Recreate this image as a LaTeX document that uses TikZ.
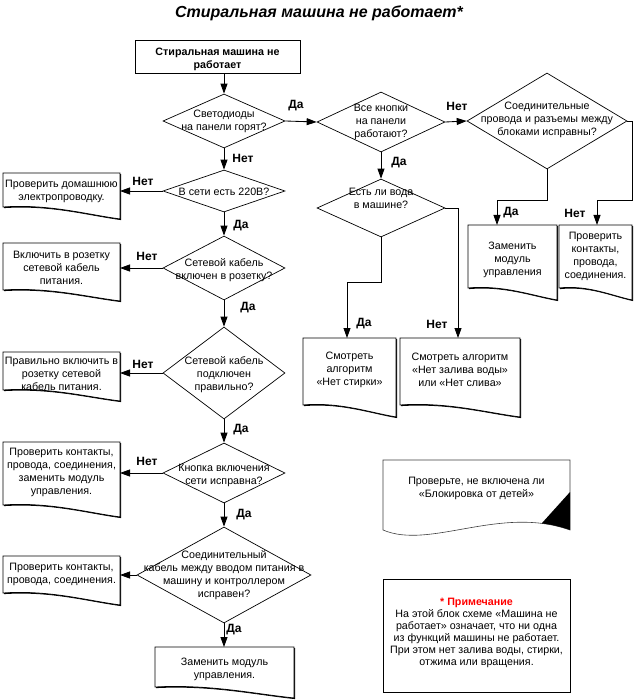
\documentclass[tikz,border=0pt]{standalone}
\usepackage{fontspec}
\setmainfont{Liberation Sans}
\usetikzlibrary{shapes.geometric,arrows.meta,calc,shadows}
\tikzset{
  boxline/.style={line width=0.8pt, draw=black},
  shd/.style={drop shadow={shadow xshift=1.1pt, shadow yshift=-1.1pt, fill=black, opacity=1}},
  dia/.style={diamond, draw, line width=0.7pt, inner sep=0pt, fill=white},
  arr/.style={-{Triangle[length=10pt,width=7pt]}, line width=0.85pt},
  lbl/.style={font=\bfseries\fontsize{12}{14}\selectfont, inner sep=0pt},
  txt/.style={align=center, font=\fontsize{10.7}{13}\selectfont, inner sep=0pt},
  ttl/.style={font=\bfseries\itshape\fontsize{16}{19}\selectfont, inner sep=0pt},
  area/.style={inner sep=0pt, outer sep=0pt},
}
\newcommand\docshape[8]{%
  \draw[boxline, fill=white, shd] (#2,#3) -- (#4,#3) -- (#4,{#5+#6}) .. controls ({#4-0.3*(#4-#2)},{#5+0.6*#6}) and ({#2+0.4*(#4-#2)},{#5-0.25*#6}) .. (#2,#5) -- cycle;
  \node[area, minimum width={(#4-#2)*1pt}, minimum height={(#5-#3)*1pt}] (#1) at ({(#2+#4)/2},{(#3+#5)/2}) {};
  \node[txt] (#1-t) at ({(#2+#4)/2},#7) {#8};
}
\begin{document}
\begin{tikzpicture}[x=1pt,y=-1pt]
\useasboundingbox[fill=white] (0,0) rectangle (634,700);
\node[ttl] (title) at (319,13) {Стиральная машина не работает*};

% start box
\node[boxline, fill=white, shd, minimum width=165pt, minimum height=33pt, inner sep=0pt] (s) at (217.5,56.5) {};
\node[txt, font=\bfseries\fontsize{10.7}{13}\selectfont] (s-t) at (217.5,59) {Стиральная машина не\\работает};

% diamonds
\node[dia, minimum width=122pt, minimum height=54pt] (d1) at (224,121) {};
\node[txt] (d1-t) at (224,121.5) {Светодиоды\\на панели горят?};
\node[dia, minimum width=128pt, minimum height=60pt] (d2) at (381,122) {};
\node[txt] (d2-t) at (381,122) {Все кнопки\\на панели\\работают?};
\node[dia, minimum width=160pt, minimum height=96pt] (d3) at (547,121) {};
\node[txt] (d3-t) at (547,120) {Соединительные\\провода и разъемы между\\блоками исправны?};
\node[dia, minimum width=128pt, minimum height=58pt] (d4) at (381,208) {};
\node[txt] (d4-t) at (381,198) {Есть ли вода\\в машине?};
\node[dia, minimum width=122pt, minimum height=42pt] (d5) at (224,191) {};
\node[txt] (d5-t) at (224,192) {В сети есть 220В?};
\node[dia, minimum width=122pt, minimum height=64pt] (d6) at (224,268) {};
\node[txt] (d6-t) at (224,270) {Сетевой кабель\\включен в розетку?};
\node[dia, minimum width=122pt, minimum height=92pt] (d7) at (224,373) {};
\node[txt] (d7-t) at (224,374.5) {Сетевой кабель\\подключен\\правильно?};
\node[dia, minimum width=122pt, minimum height=60pt] (d8) at (224,473) {};
\node[txt] (d8-t) at (224,475) {Кнопка включения\\сети исправна?};
\node[dia, minimum width=174pt, minimum height=96pt] (d9) at (224,575) {};
\node[txt] (d9-t) at (224,575) {Соединительный\\кабель между вводом питания в\\машину и контроллером\\исправен?};

% document boxes
\docshape{L1}{3}{173}{120}{207}{12}{191}{Проверить домашнюю\\электропроводку.}
\docshape{L2}{3}{243}{120}{290}{11}{268}{Включить в розетку\\сетевой кабель\\питания.}
\docshape{L3}{3}{352}{120}{390}{11}{374}{Правильно включить в\\розетку сетевой\\кабель питания.}
\docshape{L4}{3}{442}{120}{505}{12}{472}{Проверить контакты,\\провода, соединения,\\заменить модуль\\управления.}
\docshape{L5}{3}{556}{120}{593}{12}{574}{Проверить контакты,\\провода, соединения.}
\docshape{F}{155}{647}{294}{687}{11}{669}{Заменить модуль\\управления.}
\docshape{R1}{468}{225}{557}{288}{12}{260}{Заменить\\модуль\\управления}
\docshape{R2}{559}{225}{632}{288}{12}{256}{Проверить\\контакты,\\провода,\\соединения.}
\docshape{M1}{303}{338}{396}{405}{12}{370}{Смотреть\\алгоритм\\«Нет стирки»}
\docshape{M2}{400}{338}{520}{405}{12}{370}{Смотреть алгоритм\\«Нет залива воды»\\или «Нет слива»}

% child lock box
\draw[line width=0.6pt, draw=black!75, fill=white] (383,460) -- (570,460) -- (570,530) .. controls (500,505) and (430,550) .. (383,530) -- cycle;
\begin{scope}
  \clip (383,460) -- (570,460) -- (570,530) .. controls (500,505) and (430,550) .. (383,530) -- cycle;
  \fill[black] (570,492) -- (533,533) -- (576,542) -- (576,492) -- cycle;
\end{scope}
\node[area, minimum width=187pt, minimum height=70pt] (P) at (476.5,495) {};
\node[txt] (P-t) at (476.5,488) {Проверьте, не включена ли\\«Блокировка от детей»};

% note box
\node[boxline, fill=white, shd, minimum width=187pt, minimum height=113pt, inner sep=0pt] (note) at (476.5,635.5) {};
\node[txt, font=\fontsize{10.7}{12}\selectfont] (note-t) at (476.5,633) {\textcolor{red}{\bfseries * Примечание}\\На этой блок схеме «Машина не\\работает» означает, что ни одна\\из функций машины не работает.\\При этом нет залива воды, стирки,\\отжима или вращения.};

% connectors main column
\draw[arr] (s.south -| d1.north) -- (d1.north);
\draw[arr] (d1.east) -- (d2.west);
\draw[arr] (d2.east) -- (d3.west);
\draw[arr] (d2.south) -- (d4.north);
\draw[arr] (d1.south) -- (d5.north);
\draw[arr] (d5.south) -- (d6.north);
\draw[arr] (d6.south) -- (d7.north);
\draw[arr] (d7.south) -- (d8.north);
\draw[arr] (d8.south) -- (d9.north);
\draw[arr] (d9.south) -- (d9.south |- F.north);
% to the left boxes
\draw[arr] (d5.west) -- (d5.west -| L1.east);
\draw[arr] (d6.west) -- (d6.west -| L2.east);
\draw[arr] (d7.west) -- (d7.west -| L3.east);
\draw[arr] (d8.west) -- (d8.west -| L4.east);
\draw[arr] (d9.west) -- (d9.west -| L5.east);
% right branches
\coordinate (c3a) at (497,200);
\draw[arr] (d3.south) |- (c3a) -- (c3a |- R1.north);
\coordinate (c3b) at (632,200);
\coordinate (c3c) at (597,200);
\draw[arr] (d3.east) -| (c3b) -- (c3c) -- (c3c |- R2.north);
\coordinate (c4a) at (347,282);
\draw[arr] (d4.south) |- (c4a) -- (c4a |- M1.north);
\coordinate (c4b) at (458,208);
\draw[arr] (d4.east) -- (c4b) -- (c4b |- M2.north);

% labels
\node[lbl] (l1) at (296,106) {Да};
\node[lbl] (l2) at (457,106) {Нет};
\node[lbl] (l3) at (243,158) {Нет};
\node[lbl] (l4) at (399,163) {Да};
\node[lbl] (l5) at (143,181) {Нет};
\node[lbl] (l6) at (241,226) {Да};
\node[lbl] (l7) at (147,256) {Нет};
\node[lbl] (l8) at (248,308) {Да};
\node[lbl] (l9) at (143,364) {Нет};
\node[lbl] (l10) at (241,430) {Да};
\node[lbl] (l11) at (147,461) {Нет};
\node[lbl] (l12) at (244,515) {Да};
\node[lbl] (l13) at (234,630) {Да};
\node[lbl] (l14) at (511,213) {Да};
\node[lbl] (l15) at (575,213) {Нет};
\node[lbl] (l16) at (364,324) {Да};
\node[lbl] (l17) at (437,324) {Нет};
\end{tikzpicture}
\end{document}
